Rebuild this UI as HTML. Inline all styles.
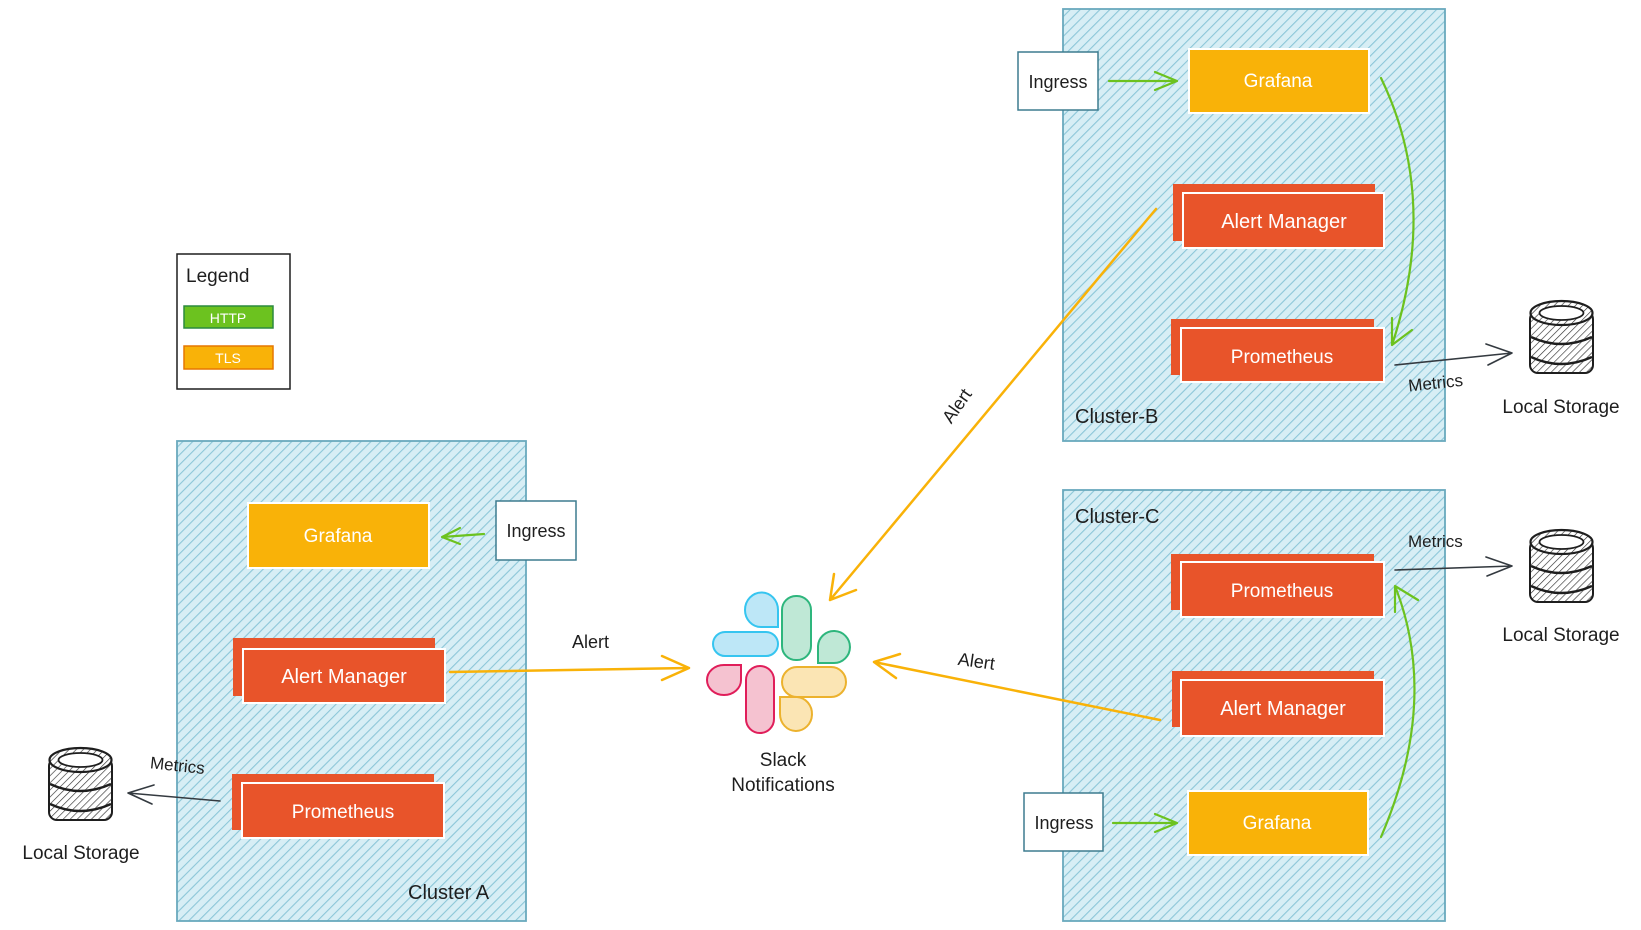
<!DOCTYPE html>
<html><head><meta charset="utf-8"><style>
html,body{margin:0;padding:0;background:#fff;}
svg{display:block;}
text{font-family:"Liberation Sans",sans-serif;}
</style></head><body>
<svg width="1641" height="930" viewBox="0 0 1641 930" xmlns="http://www.w3.org/2000/svg">
<defs>
<pattern id="h" width="7" height="7" patternUnits="userSpaceOnUse" patternTransform="rotate(45)">
<rect width="7" height="7" fill="#d7eef5"/>
<line x1="0" y1="0" x2="0" y2="7" stroke="#8cc6d8" stroke-width="2.2"/>
</pattern>
<pattern id="d" width="5" height="5" patternUnits="userSpaceOnUse" patternTransform="rotate(45)">
<rect width="5" height="5" fill="#fff"/>
<line x1="0" y1="0" x2="0" y2="5" stroke="#333" stroke-width="1.3"/>
</pattern>
<g id="cyl">
<rect x="0" y="10" width="63" height="62" rx="8" fill="url(#d)" stroke="#1e1e1e" stroke-width="2"/>
<ellipse cx="31.5" cy="12" rx="31" ry="12" fill="url(#d)" stroke="#1e1e1e" stroke-width="2.2"/>
<ellipse cx="31.5" cy="12" rx="22" ry="7" fill="#fff" stroke="#1e1e1e" stroke-width="1.8"/>
<path d="M1 36 Q31 50 62 36 M1 56 Q31 70 62 56" fill="none" stroke="#1e1e1e" stroke-width="2.5"/>
</g>
</defs>

<!-- clusters -->
<rect x="177" y="441" width="349" height="480" fill="url(#h)" stroke="#6aa9bd" stroke-width="1.8"/>
<rect x="1063" y="9" width="382" height="432" fill="url(#h)" stroke="#6aa9bd" stroke-width="1.8"/>
<rect x="1063" y="490" width="382" height="431" fill="url(#h)" stroke="#6aa9bd" stroke-width="1.8"/>
<text x="408" y="899" font-size="20" fill="#1e1e1e">Cluster A</text>
<text x="1075" y="423" font-size="20" fill="#1e1e1e">Cluster-B</text>
<text x="1075" y="523" font-size="20" fill="#1e1e1e">Cluster-C</text>

<!-- legend -->
<rect x="177" y="254" width="113" height="135" fill="#fff" stroke="#1e1e1e" stroke-width="1.5"/>
<text x="186" y="282" font-size="19" fill="#1e1e1e">Legend</text>
<rect x="184" y="306" width="89" height="22" fill="#6cc21f" stroke="#2b8a3e" stroke-width="1.5"/>
<text x="228" y="323" font-size="14" fill="#fff" text-anchor="middle">HTTP</text>
<rect x="184" y="346" width="89" height="23" fill="#f9b208" stroke="#e67700" stroke-width="1.5"/>
<text x="228" y="363" font-size="14" fill="#fff" text-anchor="middle">TLS</text>

<!-- Cluster A -->
<rect x="248" y="503" width="181" height="65" fill="#f9b208" stroke="#fff" stroke-width="2"/>
<text x="338" y="542" font-size="19" fill="#fff" text-anchor="middle">Grafana</text>
<rect x="496" y="501" width="80" height="59" fill="#fff" stroke="#3d7c8f" stroke-width="1.5"/>
<text x="536" y="537" font-size="18" fill="#1e1e1e" text-anchor="middle">Ingress</text>
<rect x="233" y="638" width="202" height="58" fill="#e8542a"/>
<rect x="243" y="649" width="202" height="54" fill="#e8542a" stroke="#fff" stroke-width="2"/>
<text x="344" y="683" font-size="20" fill="#fff" text-anchor="middle">Alert Manager</text>
<rect x="232" y="774" width="202" height="56" fill="#e8542a"/>
<rect x="242" y="783" width="202" height="55" fill="#e8542a" stroke="#fff" stroke-width="2"/>
<text x="343" y="818" font-size="19" fill="#fff" text-anchor="middle">Prometheus</text>
<use href="#cyl" x="49" y="748"/>
<text x="81" y="859" font-size="19" fill="#1e1e1e" text-anchor="middle">Local Storage</text>
<text x="150" y="772" font-size="17" fill="#1e1e1e" transform="rotate(6 185 766)">Metrics</text>

<!-- Cluster B -->
<rect x="1018" y="52" width="80" height="58" fill="#fff" stroke="#3d7c8f" stroke-width="1.5"/>
<text x="1058" y="88" font-size="18" fill="#1e1e1e" text-anchor="middle">Ingress</text>
<rect x="1189" y="49" width="180" height="64" fill="#f9b208" stroke="#fff" stroke-width="2"/>
<text x="1278" y="87" font-size="19" fill="#fff" text-anchor="middle">Grafana</text>
<rect x="1173" y="184" width="202" height="57" fill="#e8542a"/>
<rect x="1183" y="193" width="201" height="55" fill="#e8542a" stroke="#fff" stroke-width="2"/>
<text x="1284" y="228" font-size="20" fill="#fff" text-anchor="middle">Alert Manager</text>
<rect x="1171" y="319" width="203" height="56" fill="#e8542a"/>
<rect x="1181" y="328" width="203" height="54" fill="#e8542a" stroke="#fff" stroke-width="2"/>
<text x="1282" y="363" font-size="19" fill="#fff" text-anchor="middle">Prometheus</text>
<use href="#cyl" x="1530" y="301"/>
<text x="1561" y="413" font-size="19" fill="#1e1e1e" text-anchor="middle">Local Storage</text>
<text x="1408" y="388" font-size="17" fill="#1e1e1e" transform="rotate(-6 1442 381)">Metrics</text>

<!-- Cluster C -->
<rect x="1171" y="554" width="203" height="56" fill="#e8542a"/>
<rect x="1181" y="562" width="203" height="55" fill="#e8542a" stroke="#fff" stroke-width="2"/>
<text x="1282" y="597" font-size="19" fill="#fff" text-anchor="middle">Prometheus</text>
<rect x="1172" y="671" width="202" height="56" fill="#e8542a"/>
<rect x="1181" y="680" width="203" height="56" fill="#e8542a" stroke="#fff" stroke-width="2"/>
<text x="1283" y="715" font-size="20" fill="#fff" text-anchor="middle">Alert Manager</text>
<rect x="1024" y="793" width="79" height="58" fill="#fff" stroke="#3d7c8f" stroke-width="1.5"/>
<text x="1064" y="829" font-size="18" fill="#1e1e1e" text-anchor="middle">Ingress</text>
<rect x="1188" y="791" width="180" height="64" fill="#f9b208" stroke="#fff" stroke-width="2"/>
<text x="1277" y="829" font-size="19" fill="#fff" text-anchor="middle">Grafana</text>
<use href="#cyl" x="1530" y="530"/>
<text x="1561" y="641" font-size="19" fill="#1e1e1e" text-anchor="middle">Local Storage</text>
<text x="1408" y="547" font-size="17" fill="#1e1e1e">Metrics</text>

<!-- arrows -->
<g fill="none" stroke-linecap="round" stroke-linejoin="round">
<g stroke="#f9b208" stroke-width="2.5">
<path d="M450 672 L689 668 M662 656 L689 668 L662 680"/>
<path d="M1160 720 L874 662 M900 654 L874 662 L896 678"/>
<path d="M1156 209 L830 600 M834 574 L830 600 L856 590"/>
</g>
<g stroke="#6cc21f" stroke-width="2.2">
<path d="M1109 81 L1177 81 M1155 72 L1177 81 L1155 90"/>
<path d="M1113 823 L1177 823 M1155 814 L1177 823 L1155 832"/>
<path d="M484 534 L442 537 M460 528 L442 537 L460 544"/>
<path d="M1381 78 Q1440 200 1392 345 M1392 318 L1392 345 L1412 330"/>
<path d="M1381 837 Q1440 700 1395 586 M1395 612 L1395 586 L1418 600"/>
</g>
<g stroke="#343a40" stroke-width="1.6">
<path d="M1395 365 L1512 353 M1486 344 L1512 353 L1488 365"/>
<path d="M1395 570 L1512 566 M1486 557 L1512 566 L1487 576"/>
<path d="M220 801 L128 793 M154 785 L128 793 L152 804"/>
</g>
</g>
<text x="572" y="648" font-size="18" fill="#1e1e1e">Alert</text>
<text x="958" y="668" font-size="18" fill="#1e1e1e" transform="rotate(8 981 661)">Alert</text>
<text x="937" y="409" font-size="18" fill="#1e1e1e" transform="rotate(-55 959 403)">Alert</text>

<!-- slack -->
<g stroke-width="2">
<path d="M745 610 a16 17 0 1 1 33 0 L778 627 L761 627 a16 17 0 0 1 -16 -17z" fill="#bde7f7" stroke="#36c5f0"/>
<rect x="713" y="632" width="65" height="24" rx="12" fill="#bde7f7" stroke="#36c5f0"/>
<rect x="782" y="596" width="29" height="64" rx="14" fill="#bfe8d6" stroke="#2eb67d"/>
<path d="M818 663 L818 646 a16 16 0 1 1 16 17z" fill="#bfe8d6" stroke="#2eb67d"/>
<path d="M741 665 L741 680 a17 15 0 1 1 -17 -15z" fill="#f5c2d0" stroke="#e01e5a"/>
<rect x="746" y="666" width="28" height="67" rx="14" fill="#f5c2d0" stroke="#e01e5a"/>
<rect x="782" y="667" width="64" height="30" rx="15" fill="#fbe5b4" stroke="#ecb22e"/>
<path d="M780 697 L797 697 a16 17 0 1 1 -17 17z" fill="#fbe5b4" stroke="#ecb22e"/>
</g>
<text x="783" y="766" font-size="19" fill="#1e1e1e" text-anchor="middle">Slack</text>
<text x="783" y="791" font-size="19" fill="#1e1e1e" text-anchor="middle">Notifications</text>
</svg>
</body></html>
